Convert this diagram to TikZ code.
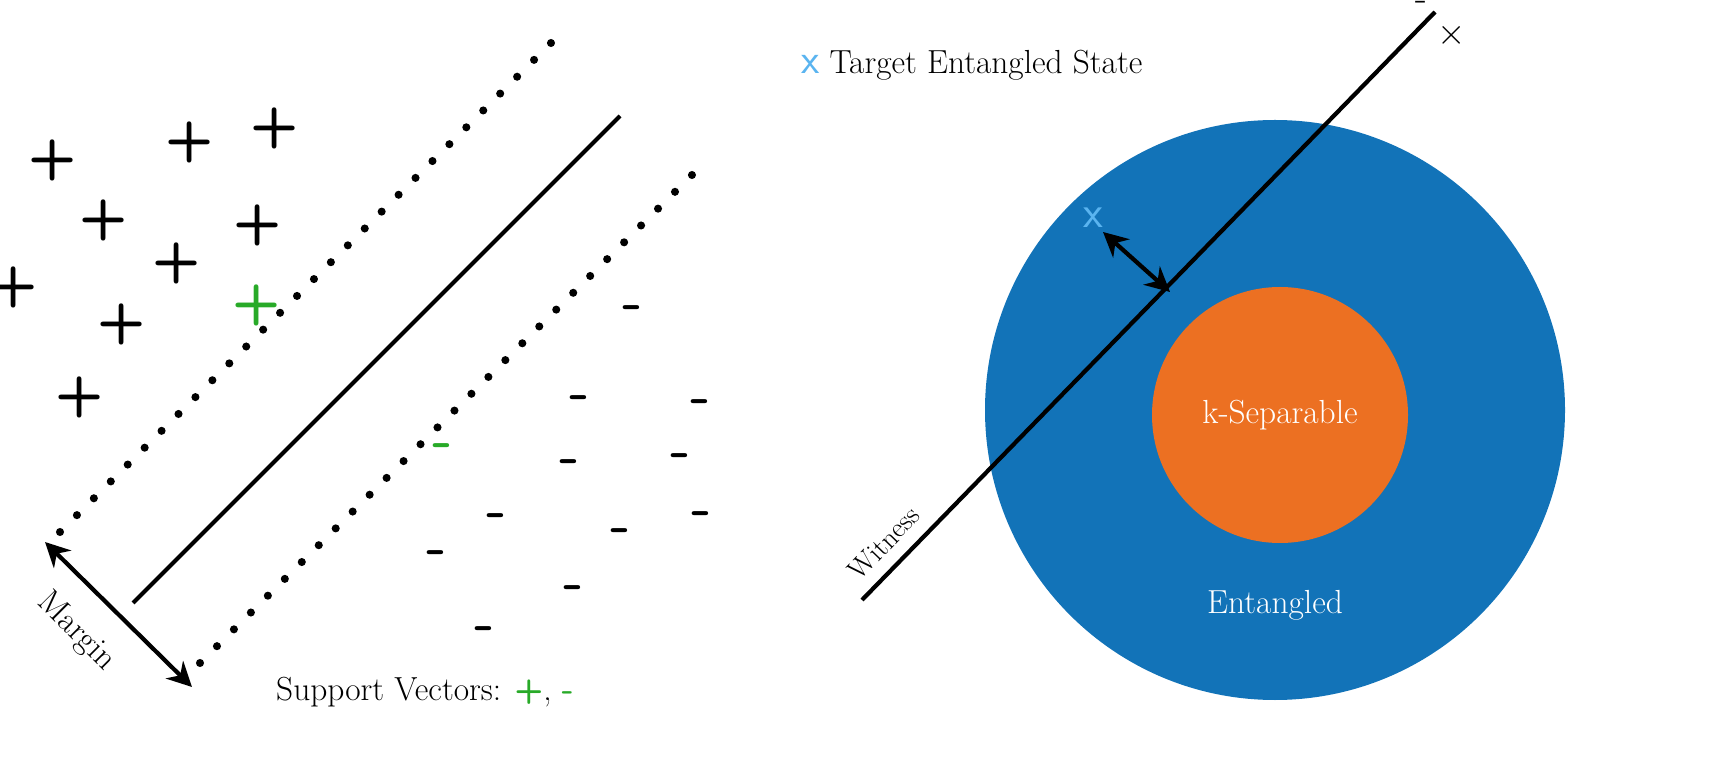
\documentclass[tikz,border=0pt]{standalone}
\usepackage{tikz}
\usetikzlibrary{arrows.meta}
\definecolor{eblue}{RGB}{18,115,184}
\definecolor{sorange}{RGB}{236,112,34}
\definecolor{lblue}{RGB}{90,180,240}
\definecolor{sgreen}{RGB}{40,170,40}
\begin{document}
\begin{tikzpicture}[x=0.02cm,y=-0.02cm,
  mk/.style={font=\sffamily\bfseries\fontsize{32}{32}\selectfont},
  dotline/.style={line width=4.6pt,line cap=round,dash pattern=on 0pt off 13.6pt},
  solid line/.style={line width=2.4pt},
  dbl/.style={line width=2.4pt,{Stealth[length=14pt,width=14pt]}-{Stealth[length=14pt,width=14pt]}},
  txt/.style={font=\fontsize{19}{19}\selectfont}]
\useasboundingbox (0,0) rectangle (1724,783);
% left panel
\coordinate (s1) at (133,603); \coordinate (s2) at (620,116);
\draw[solid line] (s1) -- (s2);
\coordinate (u1) at (60,532); \coordinate (u2) at (556,38);
\draw[dotline] (u1) -- (u2);
\coordinate (l1) at (200,663); \coordinate (l2) at (697,170);
\draw[dotline] (l1) -- (l2);
\coordinate (m1) at (45,542); \coordinate (m2) at (192,687);
\draw[dbl] (m1) -- (m2);
\node[txt,rotate=-45] (marg) at (76,632) {Margin};
\foreach \p [count=\i] in {(53,160),(190,142),(275,128),(104,220),(258,225),(177,263),(14,287),(122,324),(80,397)}
  \node[mk] (p\i) at \p {+};
\node[mk,text=sgreen] (pg) at (257,305) {+};
\foreach \p [count=\i] in {(633,313),(580,403),(701,407),(570,467),(681,461),(497,521),(621,536),(702,519),(437,558),(574,593),(485,634)}
  \node[mk] (n\i) at \p {-};
\node[mk,text=sgreen] (ng) at (443,451) {-};
\node[txt,anchor=west] (sv) at (270,692) {Support Vectors: \textcolor{sgreen}{\sffamily\bfseries+}, \textcolor{sgreen}{\sffamily\bfseries-}};
% right panel
\fill[eblue] (1275,410) circle[radius=290];
\fill[sorange] (1280,415) circle[radius=128];
\node[txt,text=white] (ks) at (1280,415) {k-Separable};
\node[txt,text=white] (ent) at (1275,605) {Entangled};
\coordinate (w1) at (862,600); \coordinate (w2) at (1435,12);
\draw[solid line] (w1) -- (w2);
\node[font=\fontsize{16}{16}\selectfont,rotate=46] (wit) at (884,543) {Witness};
\node[font=\fontsize{22}{22}\selectfont] (cx) at (1452,35) {$\times$};
\node[font=\fontsize{22}{22}\selectfont] (cm) at (1421,6) {-};
\node[font=\sffamily\fontsize{26}{26}\selectfont,text=lblue] (tx) at (1093,218) {x};
\coordinate (a1) at (1103,232); \coordinate (a2) at (1170,292);
\draw[dbl] (a1) -- (a2);
\node[txt,anchor=west] (leg) at (795,65) {\textcolor{lblue}{\sffamily\fontsize{24}{24}\selectfont x} Target Entangled State};
\end{tikzpicture}
\end{document}
